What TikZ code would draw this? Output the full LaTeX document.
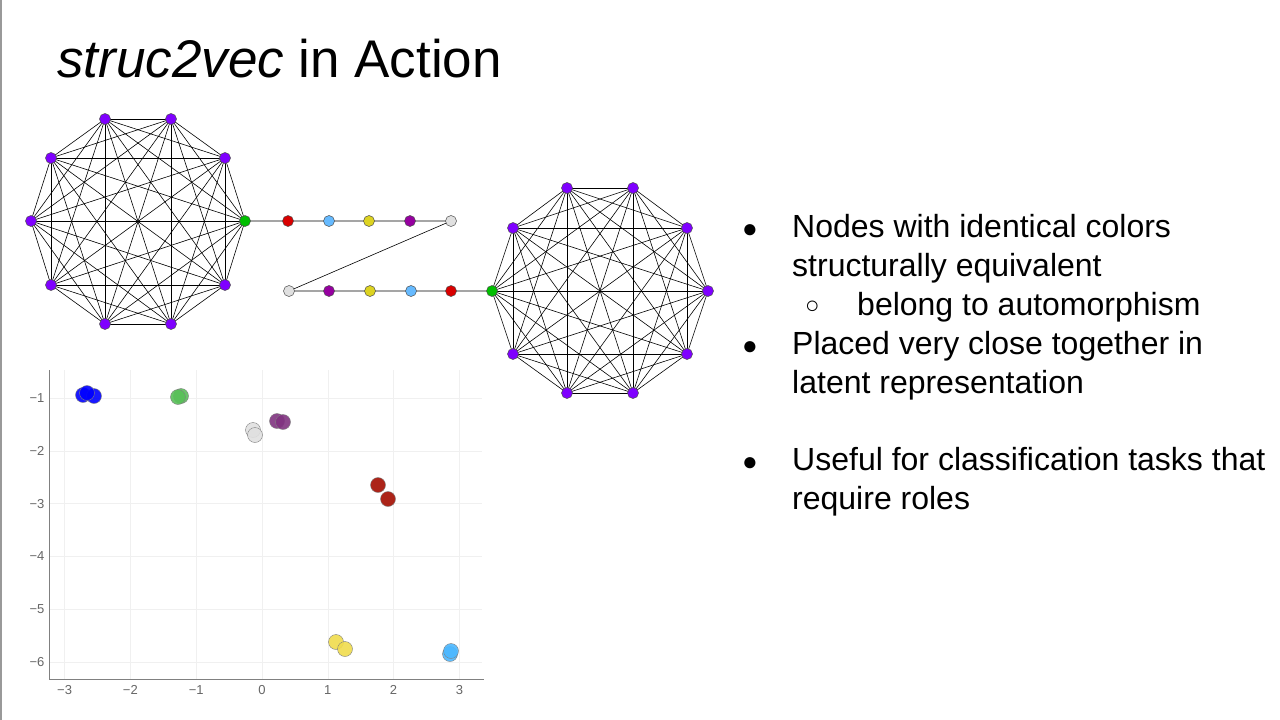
\documentclass[tikz,border=0pt]{standalone}
\usepackage{fontspec}
\setmainfont{Liberation Sans}
\begin{document}
\begin{tikzpicture}[x=1pt,y=-1pt,
  dot/.style={circle,draw=black!70,line width=0.5pt,inner sep=0,minimum size=11pt},
  edge/.style={line width=0.6pt,black},
  pt/.style={circle,draw=black!50,line width=0.4pt,inner sep=0,minimum size=15pt,fill opacity=0.9},
  txt/.style={anchor=base west,font=\fontsize{32}{32}\selectfont,inner sep=0},
  tick/.style={font=\fontsize{13}{13}\selectfont,text=black!60}]
\useasboundingbox (0,0) rectangle (1280,720);
\fill[white] (0,0) rectangle (1280,720);
\draw[black!40,line width=1.5pt] (0.8,0) -- (0.8,720);
\node[anchor=base west,inner sep=0,font=\fontsize{53}{53}\selectfont] (title) at (57,77) {\textit{struc2vec} in Action};
\colorlet{pur}{rgb,255:red,127;green,0;blue,255}
\colorlet{ppath}{rgb,255:red,150;green,0;blue,160}
\foreach \i/\x/\y in {0/245/221,1/225/158,2/171/119,3/105/119,4/51/158,5/31/221,6/51/285,7/105/324,8/171/324,9/225/285}
  \coordinate (L\i) at (\x,\y);
\foreach \i/\x/\y in {0/492/291,1/513/228,2/567/188,3/633/188,4/687/228,5/708/291,6/687/354,7/633/393,8/567/393,9/513/354}
  \coordinate (R\i) at (\x,\y);
\foreach \i in {0,...,9}{\foreach \j in {0,...,9}{\ifnum\i<\j \draw[edge] (L\i)--(L\j); \draw[edge] (R\i)--(R\j);\fi}}
\coordinate (a1) at (288,221);\coordinate (a2) at (329,221);\coordinate (a3) at (369,221);\coordinate (a4) at (410,221);\coordinate (a5) at (451,221);
\coordinate (b1) at (289,291);\coordinate (b2) at (329,291);\coordinate (b3) at (370,291);\coordinate (b4) at (411,291);\coordinate (b5) at (451,291);
\draw[edge] (L0)--(a1)--(a2)--(a3)--(a4)--(a5)--(b1)--(b2)--(b3)--(b4)--(b5)--(R0);
\foreach \i in {1,...,9}{\node[dot,fill=pur] (nl\i) at (L\i) {}; \node[dot,fill=pur] (nr\i) at (R\i) {};}
\node[dot,fill=green!75!black] (gl) at (L0) {};
\node[dot,fill=green!75!black] (gr) at (R0) {};
\foreach \n/\c in {a1/red!85!black,a2/blue!45!cyan!60!white,a3/yellow!85!black,a4/ppath,a5/black!12,b1/black!12,b2/ppath,b3/yellow!85!black,b4/blue!45!cyan!60!white,b5/red!85!black}
  \node[dot,fill=\c] (n\n) at (\n) {};
\foreach \v in {-3,...,3} \draw[black!6] ({262+65.8*\v},370) -- ({262+65.8*\v},679);
\foreach \v in {1,...,6} \draw[black!6] (49,{398+52.8*(\v-1)}) -- (482,{398+52.8*(\v-1)});
\draw[black!50,line width=0.7pt] (49,370) -- (49,679) -- (484,679);
\foreach \v/\s in {-3/−3,-2/−2,-1/−1,0/0,1/1,2/2,3/3} \node[tick] (xt\s) at ({262+65.8*\v},690) {\s};
\foreach \v in {1,...,6} \node[tick,anchor=east] (yt\v) at (48,{398+52.8*(\v-1)}) {−\v};
\foreach \x/\y/\c in {83/395/blue,94/396/blue,87/393/blue,181/396/green!45!gray!90!white,178/397/green!45!gray!90!white,
  253/430/black!12,255/435/black!12,277/421/violet!60!gray,283/422/violet!60!gray,
  378/485/red!60!black!90!orange,388/499/red!60!black!90!orange,
  336/642/yellow!70!brown!80!white,345/649/yellow!70!brown!80!white,450/654/blue!40!cyan!70!white,451/651/blue!40!cyan!70!white}
  \node[pt,fill=\c] at (\x,\y) {};
\node[txt,font=\fontsize{26}{26}\selectfont] (b1t) at (742,237) {●};
\node[txt] (l1) at (792,237) {Nodes with identical colors};
\node[txt] (l2) at (792,276) {structurally equivalent};
\node[txt,font=\fontsize{24}{24}\selectfont] (b2t) at (805,313) {○};
\node[txt] (l3) at (857,315) {belong to automorphism};
\node[txt,font=\fontsize{26}{26}\selectfont] (b3t) at (742,354) {●};
\node[txt] (l4) at (792,354) {Placed very close together in};
\node[txt] (l5) at (792,393) {latent representation};
\node[txt,font=\fontsize{26}{26}\selectfont] (b4t) at (742,470) {●};
\node[txt] (l6) at (792,470) {Useful for classification tasks that};
\node[txt] (l7) at (792,509) {require roles};
\end{tikzpicture}
\end{document}
